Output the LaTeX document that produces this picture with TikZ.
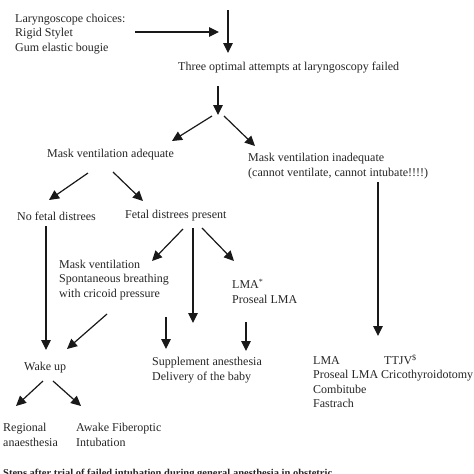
\documentclass[tikz,border=0pt]{standalone}
\usepackage{fontspec}
\setmainfont{Liberation Serif}
\usetikzlibrary{arrows.meta}
\begin{document}
\begin{tikzpicture}[x=1pt,y=-1pt,
  txt/.style={anchor=west,inner sep=0pt,align=left,text=black!85,font=\fontsize{12}{14.6}\selectfont},
  arr/.style={-{Triangle[width=9.5pt,length=10pt]},line width=1.2pt,black!90}]
\useasboundingbox[fill=white] (0,0) rectangle (474,474);

% texts
\node[txt] (choices) at (15,34) {Laryngoscope choices:\\Rigid Stylet\\Gum elastic bougie};
\node[txt] (three) at (178,68) {Three optimal attempts at laryngoscopy failed};
\node[txt] (adeq) at (47,155) {Mask ventilation adequate};
\node[txt] (inadeq) at (248,166) {Mask ventilation inadequate\\(cannot ventilate, cannot intubate!!!!)};
\node[txt] (nofetal) at (17,216) {No fetal distrees};
\node[txt] (fetal) at (125,216) {Fetal distrees present};
\node[txt] (maskv) at (59,280) {Mask ventilation\\Spontaneous breathing\\with cricoid pressure};
\node[txt] (lma) at (232,291) {LMA\textsuperscript{*}\\Proseal LMA};
\node[txt] (wake) at (24,368) {Wake up};
\node[txt] (supp) at (152,370) {Supplement anesthesia\\Delivery of the baby};
\node[txt] (rescue) at (313,382) {LMA\\Proseal LMA Cricothyroidotomy\\Combitube\\Fastrach};
\node[txt] (ttjv) at (384,360) {TTJV\textsuperscript{\$}};
\node[txt] (regional) at (3,435) {Regional\\anaesthesia};
\node[txt] (awake) at (76,435) {Awake Fiberoptic\\Intubation};
\node[txt,font=\fontsize{10.5}{12}\selectfont\bfseries] (caption) at (3,473.5) {Steps after trial of failed intubation during general anesthesia in obstetric};

% connector end points
\coordinate (topA) at (228,10);   \coordinate (topB) at (228,53);
\coordinate (chA) at (135,32);    \coordinate (chB) at (219,32);
\coordinate (thA) at (218,86);    \coordinate (thB) at (218,115);
\coordinate (spL) at (212,116);   \coordinate (adT) at (172,141);
\coordinate (spR) at (224,116);   \coordinate (inT) at (255,146);
\coordinate (adL) at (88,173);    \coordinate (nfT) at (49,200);
\coordinate (adR) at (113,172);   \coordinate (fpT) at (143,201);
\coordinate (inA) at (378,182);   \coordinate (reT) at (378,336);
\coordinate (nfA) at (46,226);    \coordinate (wkT) at (46,350);
\coordinate (fpL) at (183,229);   \coordinate (mvT) at (152,261);
\coordinate (fpM) at (193,228);   \coordinate (fpMT) at (193,323);
\coordinate (fpR) at (202,228);   \coordinate (lmT) at (234,261);
\coordinate (mvA) at (107,314);   \coordinate (wkR) at (67,349);
\coordinate (spA) at (166,317);   \coordinate (spT) at (166,349);
\coordinate (lmA) at (246,322);   \coordinate (lmB) at (246,351);
\coordinate (wkA) at (43,381);    \coordinate (rgT) at (16,406);
\coordinate (wkB) at (53,381);    \coordinate (awT) at (81,406);

% connectors
\draw[arr] (topA) -- (topB);
\draw[arr] (chA) -- (chB);
\draw[arr] (thA) -- (thB);
\draw[arr] (spL) -- (adT);
\draw[arr] (spR) -- (inT);
\draw[arr] (adL) -- (nfT);
\draw[arr] (adR) -- (fpT);
\draw[arr] (inA) -- (reT);
\draw[arr] (nfA) -- (wkT);
\draw[arr] (fpL) -- (mvT);
\draw[arr] (fpM) -- (fpMT);
\draw[arr] (fpR) -- (lmT);
\draw[arr] (mvA) -- (wkR);
\draw[arr] (spA) -- (spT);
\draw[arr] (lmA) -- (lmB);
\draw[arr] (wkA) -- (rgT);
\draw[arr] (wkB) -- (awT);
\end{tikzpicture}
\end{document}
